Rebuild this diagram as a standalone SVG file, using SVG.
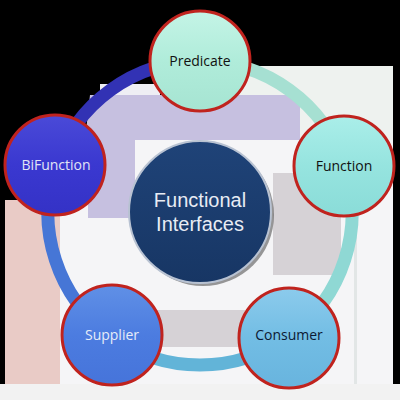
<svg xmlns="http://www.w3.org/2000/svg" width="400" height="400" viewBox="0 0 400 400">
<style>
.node{stroke:#c0231e;stroke-width:3}
.lbl{font-family:"Open Sans","Liberation Sans",sans-serif;font-size:14px;text-anchor:middle}
.ctr{font-family:"Liberation Sans","DejaVu Sans",sans-serif;font-size:20px;text-anchor:middle;fill:#e8ecf4}
.ring{fill:none;stroke-width:13}
.bg{stroke:none}
</style>
<defs>
<linearGradient id="gPred" x1="0" y1="0" x2="0" y2="1"><stop offset="0" stop-color="#c4f4e6"/><stop offset="0.5" stop-color="#b0ecda"/><stop offset="1" stop-color="#a6e4d2"/></linearGradient>
<linearGradient id="gFunc" x1="0" y1="0" x2="0" y2="1"><stop offset="0" stop-color="#aaeee9"/><stop offset="0.5" stop-color="#96e4df"/><stop offset="1" stop-color="#8adcd8"/></linearGradient>
<linearGradient id="gCons" x1="0" y1="0" x2="0" y2="1"><stop offset="0" stop-color="#8ccbec"/><stop offset="0.5" stop-color="#72bde4"/><stop offset="1" stop-color="#68b4de"/></linearGradient>
<linearGradient id="gSupp" x1="0" y1="0" x2="0" y2="1"><stop offset="0" stop-color="#6090e6"/><stop offset="0.5" stop-color="#4c7ce0"/><stop offset="1" stop-color="#4674da"/></linearGradient>
<linearGradient id="gBi" x1="0" y1="0" x2="0" y2="1"><stop offset="0" stop-color="#4a4ad8"/><stop offset="0.5" stop-color="#3a38d0"/><stop offset="1" stop-color="#3432c6"/></linearGradient>
<linearGradient id="gCenter" x1="0" y1="0" x2="0" y2="1"><stop offset="0" stop-color="#1f4378"/><stop offset="1" stop-color="#173664"/></linearGradient>
</defs>
<g id="background">
<rect class="bg" x="0" y="0" width="400" height="400" fill="#000"/>
<rect class="bg" x="0" y="384" width="400" height="16" fill="#f2f2f2"/>
<rect class="bg" x="55" y="140" width="338" height="244" fill="#f5f5f7"/>
<rect class="bg" x="5" y="200" width="55" height="184" fill="#e9cbc6"/>
<rect class="bg" x="230" y="66" width="163" height="74" fill="#eef2ef"/>
<rect class="bg" x="100" y="84" width="60" height="12" fill="#eeeef4"/>
<path class="bg" d="M90 95 H300 V140 H135 V218 H88 V140 H85 Z" fill="#c6c0e0"/>
<rect class="bg" x="273" y="173" width="68" height="102" fill="#d6d2d6"/>
<rect class="bg" x="157" y="310" width="88" height="37" fill="#d6d2d6"/>
<rect class="bg" x="354" y="200" width="3" height="184" fill="#e2e6e6"/>
</g>
<g id="connectors">
<path class="ring" stroke="#a6e0d2" d="M200 61 A152 152 0 0 1 344.6 166"/>
<path class="ring" stroke="#8fd8d4" d="M344.6 166 A152 152 0 0 1 289.3 336"/>
<path class="ring" stroke="#62b4d8" d="M289.3 336 A152 152 0 0 1 110.7 336"/>
<path class="ring" stroke="#4676d6" d="M110.7 336 A152 152 0 0 1 55.4 166"/>
<path class="ring" stroke="#3232b4" d="M55.4 166 A152 152 0 0 1 200 61"/>
</g>
<g id="center">
<circle cx="203" cy="215" r="71" fill="#555" opacity="0.6"/>
<circle cx="200" cy="212" r="71" fill="url(#gCenter)" stroke="#b8c2d2" stroke-width="2"/>
<text class="ctr" x="200" y="207">Functional</text>
<text class="ctr" x="200" y="231">Interfaces</text>
</g>
<g id="predicate">
<circle class="node" cx="200" cy="61" r="50" fill="url(#gPred)"/>
<text class="lbl" x="200" y="66" fill="#111">Predicate</text>
</g>
<g id="function">
<circle class="node" cx="344" cy="166" r="50" fill="url(#gFunc)"/>
<text class="lbl" x="344" y="171" fill="#111">Function</text>
</g>
<g id="consumer">
<circle class="node" cx="289" cy="338" r="50" fill="url(#gCons)"/>
<text class="lbl" x="289" y="340" fill="#0c1a33">Consumer</text>
</g>
<g id="supplier">
<circle class="node" cx="112" cy="335" r="50" fill="url(#gSupp)"/>
<text class="lbl" x="112" y="340" fill="#e6ecf8">Supplier</text>
</g>
<g id="bifunction">
<circle class="node" cx="55" cy="165" r="50" fill="url(#gBi)"/>
<text class="lbl" x="56" y="170" fill="#e2e4f6">BiFunction</text>
</g>
</svg>
